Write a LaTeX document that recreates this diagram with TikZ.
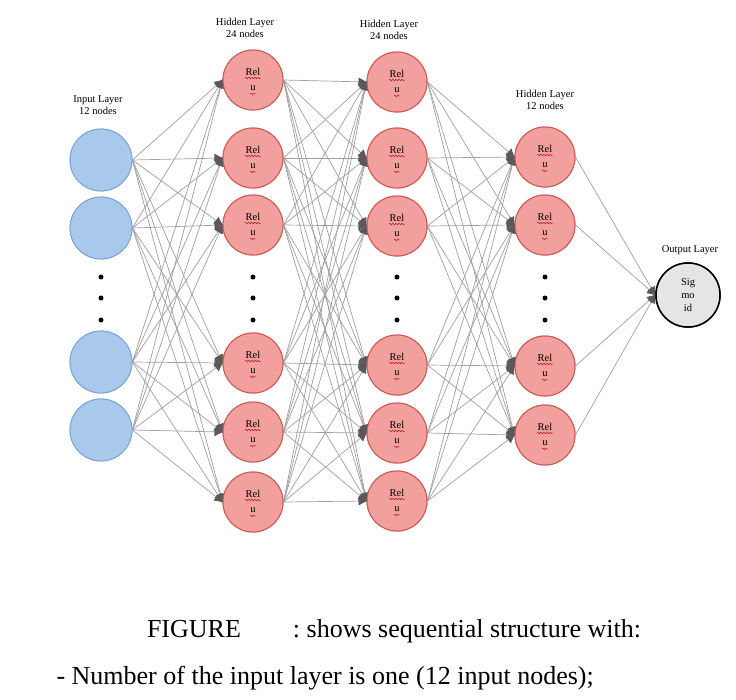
\documentclass[tikz,border=0pt]{standalone}
\usepackage{fontspec}
\setmainfont{Liberation Serif}
\usetikzlibrary{arrows.meta,decorations.pathmorphing}
\definecolor{inpfill}{RGB}{168,200,236}
\definecolor{inpdraw}{RGB}{120,160,210}
\definecolor{hidfill}{RGB}{242,160,158}
\definecolor{hiddraw}{RGB}{205,90,85}
\begin{document}
\begin{tikzpicture}[x=1pt,y=-1pt,
  inp/.style={circle,draw=inpdraw,fill=inpfill,minimum size=62pt,inner sep=0pt,line width=0.8pt},
  hid/.style={circle,draw=hiddraw,fill=hidfill,minimum size=60pt,inner sep=0pt,line width=1pt},
  outn/.style={circle,draw=black,fill=gray!20,minimum size=64pt,inner sep=0pt,line width=1.5pt},
  edge/.style={draw=gray!75,line width=0.7pt,-{Latex[length=9pt,width=9pt,fill=gray!70!black,color=gray!70!black]},shorten >=-1pt},
  lab/.style={font=\fontsize{10.5}{12}\selectfont,align=center},
  dot/.style={circle,fill=black,inner sep=0pt,minimum size=5pt},
  squig/.style={draw=red!70!black,line width=0.4pt,decorate,decoration={snake,amplitude=0.8pt,segment length=3pt}}]
\useasboundingbox (0,0) rectangle (736,699);
% input
\foreach \n/\y in {1/160,2/228,3/362,4/430}{\node[inp] (i\n) at (101,\y) {};}
% hidden layers
\foreach \n/\y in {1/80,2/158,3/225,4/363,5/432,6/502}{\node[hid] (a\n) at (253,\y) {};}
\foreach \n/\y in {1/82,2/158,3/226,4/365,5/433,6/501}{\node[hid] (b\n) at (397,\y) {};}
\foreach \n/\y in {1/157,2/225,3/366,4/435}{\node[hid] (c\n) at (545,\y) {};}
\node[outn] (o) at (688,295) {};
% edges
\foreach \i in {1,...,4}{\foreach \j in {1,...,6}{\draw[edge] (i\i.east) -- (a\j.west);}}
\foreach \i in {1,...,6}{\foreach \j in {1,...,6}{\draw[edge] (a\i.east) -- (b\j.west);}}
\foreach \i in {1,...,6}{\foreach \j in {1,...,4}{\draw[edge] (b\i.east) -- (c\j.west);}}
\foreach \i in {1,...,4}{\draw[edge] (c\i.east) -- (o.west);}
% redraw nodes on top
\foreach \n/\y in {1/160,2/228,3/362,4/430}{\node[inp] at (101,\y) {};}
\foreach \l/\x/\ys in {a/253/{1/80,2/158,3/225,4/363,5/432,6/502},b/397/{1/82,2/158,3/226,4/365,5/433,6/501},c/545/{1/157,2/225,3/366,4/435}}{
  \foreach \n/\y in \ys {
    \node[hid] at (\x,\y) {};
    \node[lab] (\l\n t) at (\x,\y-8) {Rel};
    \node[lab] (\l\n u) at (\x,\y+8) {u};
    \draw[squig] (\x-8,\y-2) -- (\x+8,\y-2);
    \draw[squig] (\x-3,\y+14) -- (\x+3,\y+14);
  }}
\node[outn] at (688,295) {};
\node[lab,font=\fontsize{10.5}{13}\selectfont] (ot) at (688,295) {Sig\\mo\\id};
% dots
\foreach \y in {277,298,320}{
  \node[dot] (di\y) at (101,\y) {};
  \node[dot] (da\y) at (253,\y) {};
  \node[dot] (db\y) at (397,\y) {};
  \node[dot] (dc\y) at (545,\y) {};}
% labels
\node[lab] (l1) at (98,105) {Input Layer\\12 nodes};
\node[lab] (l2) at (245,28) {Hidden Layer\\24 nodes};
\node[lab] (l3) at (389,30) {Hidden Layer\\24 nodes};
\node[lab] (l4) at (545,100) {Hidden Layer\\12 nodes};
\node[lab] (l5) at (690,250) {Output Layer};
\node[font=\fontsize{26}{30}\selectfont] (cap) at (394,631) {FIGURE\qquad: shows sequential structure with:};
\node[font=\fontsize{26}{30}\selectfont,anchor=west] (cap2) at (53,678) {- Number of the input layer is one (12 input nodes);};
\end{tikzpicture}
\end{document}
